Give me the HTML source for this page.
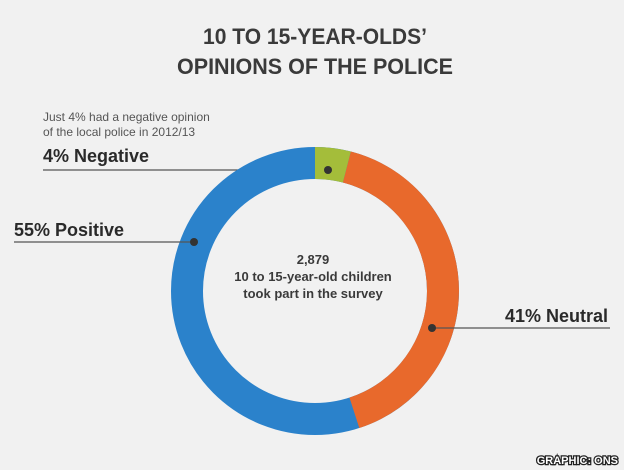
<!DOCTYPE html>
<html><head><meta charset="utf-8"><style>
html,body{margin:0;padding:0;background:#f1f1f1;}
svg{display:block;font-family:"Liberation Sans",sans-serif;}
</style></head><body>
<svg width="624" height="470" viewBox="0 0 624 470">
<rect width="624" height="470" fill="#f1f1f1"/>
<g fill="#3a3a3a" font-weight="bold" font-size="22" text-anchor="middle">
<text x="315" y="44" textLength="224" lengthAdjust="spacingAndGlyphs">10 TO 15-YEAR-OLDS’</text>
<text x="315" y="74" textLength="276" lengthAdjust="spacingAndGlyphs">OPINIONS OF THE POLICE</text>
</g>
<line x1="43" y1="170" x2="328" y2="170" stroke="#555" stroke-width="1.2"/>
<g transform="translate(315,291) rotate(-90)" fill="none" stroke-width="32">
<circle r="128" stroke="#2b82cb"/>
<circle r="128" stroke="#e8692c" stroke-dasharray="329.7 1000" stroke-dashoffset="-32.2"/>
<circle r="128" stroke="#a4bd3a" stroke-dasharray="32.2 1000"/>
</g>
<g stroke="#555" stroke-width="1.2">
<line x1="14" y1="242" x2="194" y2="242"/>
<line x1="432" y1="328" x2="610" y2="328"/>
</g>
<g fill="#333">
<circle cx="328" cy="170" r="4"/>
<circle cx="194" cy="242" r="4"/>
<circle cx="432" cy="328" r="4"/>
</g>
<g fill="#555" font-size="12">
<text x="43" y="121">Just 4% had a negative opinion</text>
<text x="43" y="136">of the local police in 2012/13</text>
</g>
<g fill="#2a2a2a" font-size="18" font-weight="bold">
<text x="43" y="162">4% Negative</text>
<text x="14" y="236">55% Positive</text>
<text x="608" y="322" text-anchor="end">41% Neutral</text>
</g>
<g fill="#3a3a3a" font-size="13" font-weight="bold" text-anchor="middle">
<text x="313" y="264">2,879</text>
<text x="313" y="281">10 to 15-year-old children</text>
<text x="313" y="298">took part in the survey</text>
</g>
<text x="618" y="464" text-anchor="end" font-size="11" font-weight="bold" fill="#fff" stroke="#222" stroke-width="2.5" paint-order="stroke">GRAPHIC: ONS</text>
</svg>
</body></html>
